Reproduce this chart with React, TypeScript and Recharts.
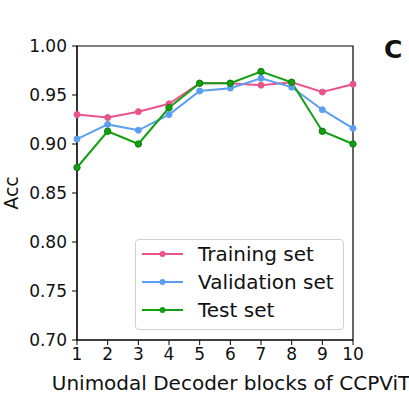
import React from "react";
import {
  LineChart, Line, XAxis, YAxis, ReferenceArea, Label,
} from "recharts";

const blocks = [1, 2, 3, 4, 5, 6, 7, 8, 9, 10];
const trainingAcc = [0.930, 0.927, 0.933, 0.941, 0.962, 0.962, 0.960, 0.963, 0.953, 0.961];
const validationAcc = [0.905, 0.920, 0.914, 0.930, 0.954, 0.957, 0.967, 0.958, 0.935, 0.916];
const testAcc = [0.876, 0.913, 0.900, 0.937, 0.962, 0.962, 0.974, 0.963, 0.913, 0.900];
const yTicks = [0.7, 0.75, 0.8, 0.85, 0.9, 0.95, 1.0];

const PINK = "#e9558a";
const BLUE = "#5c9ff0";
const GREEN = "#12a012";
const FONT = "DejaVu Sans";

const data = blocks.map((b, i) => ({
  block: b,
  train: trainingAcc[i],
  val: validationAcc[i],
  test: testAcc[i],
}));

const legendItems = [
  { name: "Training set", color: PINK },
  { name: "Validation set", color: BLUE },
  { name: "Test set", color: GREEN },
];

function LegendBox() {
  return (
    <div
      style={{
        position: "absolute",
        left: 135,
        top: 239,
        width: 207,
        height: 89,
        border: "1px solid #d0d0d0",
        borderRadius: 4,
        background: "white",
        fontFamily: FONT,
        fontSize: 20,
        color: "#111",
      }}
    >
      {legendItems.map((it) => (
        <div key={it.name} style={{ display: "flex", alignItems: "center", height: 28, lineHeight: "28px" }}>
          <svg width={62} height={10}>
            <line x1={6} x2={47} y1={5} y2={5} stroke={it.color} strokeWidth={2} />
            <circle cx={26.5} cy={5} r={3} fill={it.color} />
          </svg>
          <span>{it.name}</span>
        </div>
      ))}
    </div>
  );
}

const tickStyle = { fontSize: 17, fill: "#111", fontFamily: FONT };

export default function App() {
  return (
    <div style={{ position: "absolute", left: 0, top: 0, width: 409, height: 409, background: "white" }}>
      <LineChart width={409} height={409} data={data} margin={{ top: 46, right: 56, bottom: 39, left: 17 }}>
        <XAxis
          dataKey="block"
          type="number"
          domain={[1, 10]}
          ticks={blocks}
          interval={0}
          tick={tickStyle}
          tickSize={5}
          tickMargin={3}
          height={30}
          stroke="#000"
          tickLine={{ stroke: "#000" }}
        >
          <Label
            value="Unimodal Decoder blocks of CCPViT"
            position="bottom"
            offset={6}
            dx={16}
            style={{ fontSize: 20, fill: "#111", fontFamily: FONT }}
          />
        </XAxis>
        <YAxis
          type="number"
          domain={[0.7, 1.0]}
          ticks={yTicks}
          interval={0}
          tickFormatter={(v: number) => v.toFixed(2)}
          tick={tickStyle}
          tickSize={5}
          tickMargin={5}
          width={60}
          stroke="#000"
          tickLine={{ stroke: "#000" }}
        >
          <Label
            value="Acc"
            angle={-90}
            position="insideLeft"
            offset={-6}
            style={{ fontSize: 19, fill: "#111", fontFamily: FONT, textAnchor: "middle" }}
          />
        </YAxis>
        <ReferenceArea x1={1} x2={10} y1={0.7} y2={1.0} fill="none" stroke="#000" strokeWidth={1.2} />
        <Line dataKey="train" stroke={PINK} strokeWidth={2} dot={{ r: 3, fill: PINK, stroke: PINK, strokeWidth: 1 }} isAnimationActive={false} />
        <Line dataKey="val" stroke={BLUE} strokeWidth={2} dot={{ r: 3, fill: BLUE, stroke: BLUE, strokeWidth: 1 }} isAnimationActive={false} />
        <Line dataKey="test" stroke={GREEN} strokeWidth={2} dot={{ r: 3.2, fill: GREEN, stroke: "#0b7f0b", strokeWidth: 1 }} isAnimationActive={false} />
      </LineChart>
      <LegendBox />
      <div
        style={{
          position: "absolute",
          left: 384,
          top: 35,
          fontFamily: FONT,
          fontWeight: "bold",
          fontSize: 25,
          color: "#111",
        }}
      >
        C
      </div>
    </div>
  );
}
